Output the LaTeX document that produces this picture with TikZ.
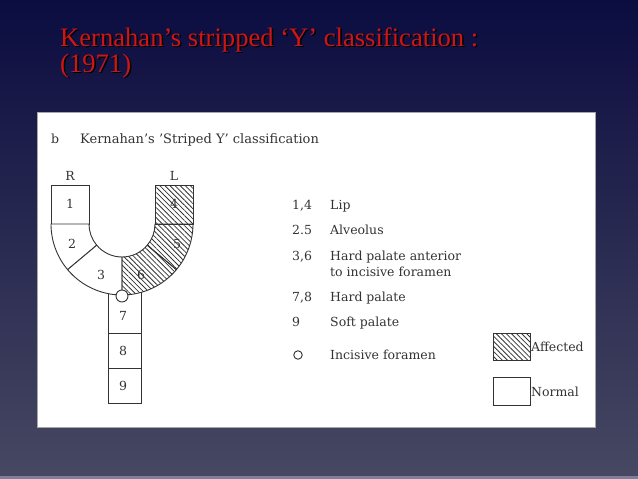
\documentclass[tikz,border=0pt]{standalone}
\usepackage{fontspec}
\setmainfont{Liberation Serif}
\newfontfamily\scanfont[Ligatures=TeX]{DejaVu Serif}
\usetikzlibrary{patterns.meta}
\definecolor{slidetop}{HTML}{0B0C40}
\definecolor{slidebot}{HTML}{474862}
\definecolor{slidestrip}{HTML}{7E809A}
\definecolor{titlered}{HTML}{D01515}
\definecolor{inkgray}{HTML}{333333}

\begin{document}
\begin{tikzpicture}[x=1pt,y=-1pt,
    seg/.style={draw=inkgray,line width=0.9pt,fill=white},
    hatch/.style={draw=inkgray,line width=0.9pt,
      pattern={Lines[angle=-45,distance=3.6pt,line width=0.8pt]},pattern color=inkgray},
    lbl/.style={font=\scanfont\fontsize{12.5}{15}\selectfont,text=inkgray,inner sep=0pt},
    key/.style={lbl,anchor=base west},
    slidetitle/.style={font=\fontsize{26.6}{30}\selectfont,anchor=base west,inner sep=0pt}]
  \useasboundingbox (0,0) rectangle (638,479);

  % Slide background and title
  \shade[top color=slidetop,bottom color=slidebot] (0,0) rectangle (638,479);
  \fill[slidestrip] (0,476) rectangle (638,479);
  \node[slidetitle,text=black] (shadowA) at (61.5,47.5) {Kernahan’s stripped ‘Y’ classification :};
  \node[slidetitle,text=black] (shadowB) at (61.5,73.5) {(1971)};
  \node[slidetitle,text=titlered] (titleA) at (60,46) {Kernahan’s stripped ‘Y’ classification :};
  \node[slidetitle,text=titlered] (titleB) at (60,72) {(1971)};

  % Scanned page
  \draw[draw=gray!70,fill=white] (37,112) rectangle (595,427);
  \node[key] (figb) at (51,143) {b};
  \node[key,font=\scanfont\fontsize{13}{15}\selectfont] (figtitle) at (80,143) {Kernahan's 'Striped Y' classification};

  % The Y: centre of the arch
  \coordinate (ctr) at (122,224);

  % Right side (normal)
  \draw[seg] (51,185) rectangle (89,224);
  \draw[seg] ([shift={(ctr)}]180:71) arc[start angle=180,end angle=140,radius=71]
    -- ([shift={(ctr)}]140:33) arc[start angle=140,end angle=180,radius=33] -- cycle;
  \draw[seg] ([shift={(ctr)}]140:71) arc[start angle=140,end angle=90,radius=71]
    -- ([shift={(ctr)}]90:33) arc[start angle=90,end angle=140,radius=33] -- cycle;

  % Left side (affected)
  \draw[hatch] (155,185) rectangle (193,224);
  \draw[hatch] ([shift={(ctr)}]0:71) arc[start angle=0,end angle=40,radius=71]
    -- ([shift={(ctr)}]40:33) arc[start angle=40,end angle=0,radius=33] -- cycle;
  \draw[hatch] ([shift={(ctr)}]40:71) arc[start angle=40,end angle=90,radius=71]
    -- ([shift={(ctr)}]90:33) arc[start angle=90,end angle=40,radius=33] -- cycle;

  % Stem
  \draw[draw=inkgray,line width=0.9pt] (108,293.6) -- (108,403) -- (141,403) -- (141,292.4);
  \draw[draw=inkgray,line width=0.9pt] (108,333) -- (141,333);
  \draw[draw=inkgray,line width=0.9pt] (108,368) -- (141,368);

  % Incisive foramen
  \node[draw=inkgray,line width=0.9pt,fill=white,circle,minimum size=12pt,inner sep=0pt] (foramen) at (122,296) {};

  % Labels
  \node[lbl] (sideR) at (70,176) {R};
  \node[lbl] (sideL) at (174,176) {L};
  \node[lbl] (n1) at (70,204) {1};
  \node[lbl] (n2) at (72,244) {2};
  \node[lbl] (n3) at (101,275) {3};
  \node[lbl] (n4) at (174,204) {4};
  \node[lbl] (n5) at (177,244) {5};
  \node[lbl] (n6) at (141,275) {6};
  \node[lbl] (n7) at (123,316) {7};
  \node[lbl] (n8) at (123,351) {8};
  \node[lbl] (n9) at (123,386) {9};

  % Legend
  \node[key] (k14) at (292,209) {1,4};
  \node[key] (t14) at (330,209) {Lip};
  \node[key] (k25) at (292,234) {2.5};
  \node[key] (t25) at (330,234) {Alveolus};
  \node[key] (k36) at (292,260) {3,6};
  \node[key] (t36) at (330,260) {Hard palate anterior};
  \node[key] (t36b) at (330,276) {to incisive foramen};
  \node[key] (k78) at (292,301) {7,8};
  \node[key] (t78) at (330,301) {Hard palate};
  \node[key] (k9) at (292,326) {9};
  \node[key] (t9) at (330,326) {Soft palate};
  \node[draw=inkgray,line width=0.9pt,circle,minimum size=8.5pt,inner sep=0pt] (kO) at (298,355) {};
  \node[key] (tO) at (330,359) {Incisive foramen};

  \draw[hatch] (493,333) rectangle (530,360);
  \node[key] (taff) at (531,351) {Affected};
  \draw[seg] (493,377) rectangle (530,405);
  \node[key] (tnorm) at (531,396) {Normal};
\end{tikzpicture}
\end{document}
